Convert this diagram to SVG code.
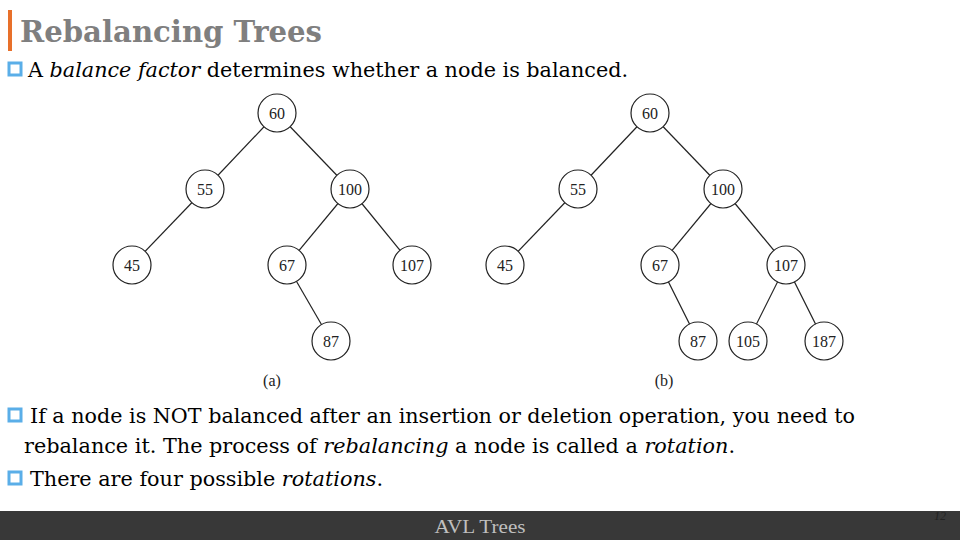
<svg xmlns="http://www.w3.org/2000/svg" width="960" height="540" viewBox="0 0 960 540">
<style>
.n circle{fill:#fff;stroke:#222;stroke-width:1.2}
.n text,.lab{font-family:"Liberation Serif",serif;font-size:16px;fill:#222;text-anchor:middle}
.e line{stroke:#222;stroke-width:1.2}
.t{font-family:"DejaVu Serif","Liberation Serif",serif;font-size:20px;fill:#000}
.b{fill:none;stroke:#5aaee8;stroke-width:3}
</style>
<rect width="960" height="540" fill="#fff"/>
<rect x="8" y="10" width="4" height="41" fill="#e8702a"/>
<text x="20" y="42" font-family="DejaVu Serif,Liberation Serif,serif" font-weight="bold" font-size="29" fill="#7f7f7f" textLength="302" lengthAdjust="spacingAndGlyphs">Rebalancing Trees</text>
<rect class="b" x="9" y="63" width="12" height="12"/>
<text class="t" x="28" y="77" textLength="600" lengthAdjust="spacingAndGlyphs">A <tspan font-style="italic">balance factor</tspan> determines whether a node is balanced.</text>
<g class="e">
<line x1="277" y1="113" x2="205" y2="189"/><line x1="277" y1="113" x2="350" y2="189"/>
<line x1="205" y1="189" x2="132" y2="265"/><line x1="350" y1="189" x2="287" y2="265"/>
<line x1="350" y1="189" x2="412" y2="265"/><line x1="287" y1="265" x2="331" y2="341"/>
<line x1="650" y1="113" x2="578" y2="189"/><line x1="650" y1="113" x2="723" y2="189"/>
<line x1="578" y1="189" x2="505" y2="265"/><line x1="723" y1="189" x2="660" y2="265"/>
<line x1="723" y1="189" x2="786" y2="265"/><line x1="660" y1="265" x2="698" y2="341"/>
<line x1="786" y1="265" x2="748" y2="341"/><line x1="786" y1="265" x2="824" y2="341"/>
</g>
<g id="a60" class="n"><circle cx="277" cy="113" r="19"/><text x="277" y="119">60</text></g>
<g id="a55" class="n"><circle cx="205" cy="189" r="19"/><text x="205" y="195">55</text></g>
<g id="a100" class="n"><circle cx="350" cy="189" r="19"/><text x="350" y="195">100</text></g>
<g id="a45" class="n"><circle cx="132" cy="265" r="19"/><text x="132" y="271">45</text></g>
<g id="a67" class="n"><circle cx="287" cy="265" r="19"/><text x="287" y="271">67</text></g>
<g id="a107" class="n"><circle cx="412" cy="265" r="19"/><text x="412" y="271">107</text></g>
<g id="a87" class="n"><circle cx="331" cy="341" r="19"/><text x="331" y="347">87</text></g>
<g id="b60" class="n"><circle cx="650" cy="113" r="19"/><text x="650" y="119">60</text></g>
<g id="b55" class="n"><circle cx="578" cy="189" r="19"/><text x="578" y="195">55</text></g>
<g id="b100" class="n"><circle cx="723" cy="189" r="19"/><text x="723" y="195">100</text></g>
<g id="b45" class="n"><circle cx="505" cy="265" r="19"/><text x="505" y="271">45</text></g>
<g id="b67" class="n"><circle cx="660" cy="265" r="19"/><text x="660" y="271">67</text></g>
<g id="b107" class="n"><circle cx="786" cy="265" r="19"/><text x="786" y="271">107</text></g>
<g id="b87" class="n"><circle cx="698" cy="341" r="19"/><text x="698" y="347">87</text></g>
<g id="b105" class="n"><circle cx="748" cy="341" r="19"/><text x="748" y="347">105</text></g>
<g id="b187" class="n"><circle cx="824" cy="341" r="19"/><text x="824" y="347">187</text></g>
<text class="lab" x="272" y="386">(a)</text>
<text class="lab" x="664" y="386">(b)</text>
<rect class="b" x="9" y="409" width="12" height="12"/>
<text class="t" x="30" y="423" textLength="825" lengthAdjust="spacingAndGlyphs">If a node is NOT balanced after an insertion or deletion operation, you need to</text>
<text class="t" x="24" y="453" textLength="711" lengthAdjust="spacingAndGlyphs">rebalance it. The process of <tspan font-style="italic">rebalancing</tspan> a node is called a <tspan font-style="italic">rotation</tspan>.</text>
<rect class="b" x="9" y="472" width="12" height="12"/>
<text class="t" x="30" y="486" textLength="353" lengthAdjust="spacingAndGlyphs">There are four possible <tspan font-style="italic">rotations</tspan>.</text>
<rect x="0" y="511" width="960" height="29" fill="#383838"/>
<text x="480" y="533" font-family="Liberation Serif,serif" font-size="19" fill="#bfbfbf" text-anchor="middle" textLength="91" lengthAdjust="spacingAndGlyphs">AVL Trees</text>
<text x="940" y="520" font-family="Liberation Serif,serif" font-style="italic" font-size="12" fill="#222" text-anchor="middle">12</text>
</svg>
